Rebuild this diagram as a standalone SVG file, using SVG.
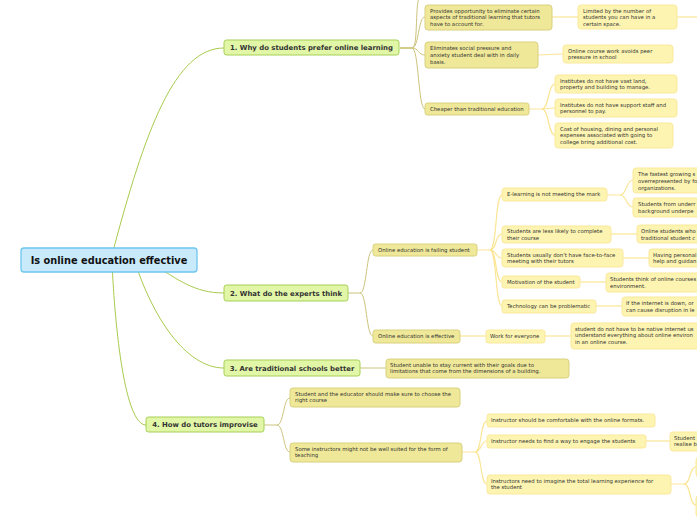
<svg xmlns="http://www.w3.org/2000/svg" width="697" height="520" viewBox="0 0 697 520">
<style>
text{font-family:"DejaVu Sans",Verdana,sans-serif;fill:#333}
.t0{font-size:9.8px;font-weight:bold;fill:#111;text-anchor:middle}
.t1{font-size:6.9px;font-weight:bold;text-anchor:middle}
.ts{font-size:5.35px}
.r{fill:#c8eafa;stroke:#6ec6ee;stroke-width:1.3}
.l1{fill:#e2f6a8;stroke:#a6cf56;stroke-width:1}
.l2{fill:#efe899;stroke:#d9d17e;stroke-width:1}
.l3{fill:#fdf4b1;stroke:#fae99c;stroke-width:1}
.cg{fill:none;stroke:#a8cb4c;stroke-width:1}
.ck{fill:none;stroke:#cdc47c;stroke-width:1}
.ckd{fill:none;stroke:#b8ab3a;stroke-width:1.2}
.cy{fill:none;stroke:#fbe597;stroke-width:1.2}
</style>
<rect width="697" height="520" fill="#fff"/>
<g id="connectors">
<path class="cg" d="M112,255 C145,130 175,48 224,48"/>
<path class="cg" d="M150,262 C178,280 195,293 224,293"/>
<path class="cg" d="M135,262 C152,315 185,368 224,368"/>
<path class="cg" d="M112,262 C115,330 125,425 146,425"/>
<path class="ckd" d="M400,48 L412,48"/>
<path class="ck" d="M412,48 C419,48 414,-3 421,-5"/>
<path class="ck" d="M412,48 C419,48 418,17 425,17"/>
<path class="ck" d="M412,48 C419,48 418,55 425,55"/>
<path class="ck" d="M412,48 C419,48 418,109 425,109"/>
<path class="ck" d="M348,293 L360,293 C367,293 366,250 373,250"/>
<path class="ck" d="M360,293 C367,293 366,336 373,336"/>
<path class="ck" d="M360,368 L386,368"/>
<path class="ck" d="M264,425 L277,425 C284,425 283,398 290,398"/>
<path class="ck" d="M277,425 C284,425 283,452 290,452"/>
<path class="cy" d="M552,17 L578,17"/>
<path class="cy" d="M677,17 L697,17"/>
<path class="cy" d="M538,55 L563,54"/>
<path class="cy" d="M529,109 L542,109 C549,109 548,84 555,84"/>
<path class="cy" d="M542,109 L555,108"/>
<path class="cy" d="M542,109 C549,109 548,135 555,135"/>
<path class="cy" d="M477,250 L490,250 C497,250 495,195 502,195"/>
<path class="cy" d="M490,250 C497,250 495,234 502,234"/>
<path class="cy" d="M490,250 C497,250 495,258 502,258"/>
<path class="cy" d="M490,250 C497,250 495,282 502,282"/>
<path class="cy" d="M490,250 C497,250 495,306 502,306"/>
<path class="cy" d="M460,336 L486,336"/>
<path class="cy" d="M462,452 L475,452 C482,452 480,421 487,421"/>
<path class="cy" d="M475,452 C482,452 480,441 487,441"/>
<path class="cy" d="M475,452 C482,452 480,484 487,484"/>
<path class="cy" d="M607,195 L620,195 C627,195 626,180 633,180"/>
<path class="cy" d="M620,195 C627,195 626,207 633,207"/>
<path class="cy" d="M611,234 L637,234"/>
<path class="cy" d="M623,258 L649,258"/>
<path class="cy" d="M580,282 L606,282"/>
<path class="cy" d="M596,306 L622,306"/>
<path class="cy" d="M545,336 L571,336"/>
<path class="cy" d="M646,441 L670,441"/>
<path class="cy" d="M671,484 L684,484 C691,484 689,467 696,467"/>
<path class="cy" d="M684,484 C691,484 689,505 696,505"/>
</g>
<g id="root"><rect class="r" x="21" y="248" width="176" height="24" rx="3"/><text class="t0" x="109" y="263.5">Is online education effective</text></g>
<g id="n1"><rect class="l1" x="224" y="40" width="175" height="15" rx="2.5"/><text class="t1" x="311.5" y="50.4">1. Why do students prefer online learning</text></g>
<g id="n2"><rect class="l1" x="224" y="285" width="124" height="16" rx="2.5"/><text class="t1" x="286" y="295.6">2. What do the experts think</text></g>
<g id="n3"><rect class="l1" x="224" y="360" width="136" height="16" rx="2.5"/><text class="t1" x="292" y="370.6">3. Are traditional schools better</text></g>
<g id="n4"><rect class="l1" x="146" y="417" width="118" height="15" rx="2.5"/><text class="t1" x="205" y="427.4">4. How do tutors improvise</text></g>

<g id="n1a"><rect class="l2" x="425" y="5" width="127" height="25" rx="3"/><text class="ts" x="430"><tspan x="430" y="12.5">Provides opportunity to eliminate certain</tspan><tspan x="430" y="19.3">aspects of traditional learning that tutors</tspan><tspan x="430" y="26.1">have to account for.</tspan></text></g>
<g id="n1a1"><rect class="l3" x="578" y="5" width="99" height="24" rx="3"/><text class="ts"><tspan x="583" y="12.5">Limited by the number of</tspan><tspan x="583" y="19.3">students you can have in a</tspan><tspan x="583" y="26.1">certain space.</tspan></text></g>
<g id="n1b"><rect class="l2" x="425" y="42" width="113" height="26" rx="3"/><text class="ts"><tspan x="430" y="50">Eliminates social pressure and</tspan><tspan x="430" y="56.8">anxiety student deal with in daily</tspan><tspan x="430" y="63.6">basis.</tspan></text></g>
<g id="n1b1"><rect class="l3" x="563" y="45" width="110" height="18" rx="3"/><text class="ts"><tspan x="568" y="52.5">Online course work avoids peer</tspan><tspan x="568" y="59.3">pressure in school</tspan></text></g>
<g id="n1c"><rect class="l2" x="425" y="103" width="104" height="12" rx="2.5"/><text class="ts" x="430" y="110.9">Cheaper than traditional education</text></g>
<g id="n1c1"><rect class="l3" x="555" y="75" width="122" height="18" rx="3"/><text class="ts"><tspan x="560" y="82.5">Institutes do not have vast land,</tspan><tspan x="560" y="89.3">property and building to manage.</tspan></text></g>
<g id="n1c2"><rect class="l3" x="555" y="99" width="122" height="18" rx="3"/><text class="ts"><tspan x="560" y="106.5">Institutes do not have support staff and</tspan><tspan x="560" y="113.3">personnel to pay.</tspan></text></g>
<g id="n1c3"><rect class="l3" x="555" y="123" width="118" height="25" rx="3"/><text class="ts"><tspan x="560" y="130.5">Cost of housing, dining and personal</tspan><tspan x="560" y="137.3">expenses associated with going to</tspan><tspan x="560" y="144.1">college bring additional cost.</tspan></text></g>

<g id="n2a"><rect class="l2" x="373" y="244" width="104" height="12" rx="2.5"/><text class="ts" x="378" y="251.9">Online education is failing student</text></g>
<g id="n2a1"><rect class="l3" x="502" y="188" width="105" height="13" rx="3"/><text class="ts" x="507" y="196.4">E-learning is not meeting the mark</text></g>
<g id="n2a1a"><rect class="l3" x="633" y="168" width="80" height="25" rx="3"/><text class="ts"><tspan x="638" y="176">The fastest growing s</tspan><tspan x="638" y="182.8">overrepresented by fo</tspan><tspan x="638" y="189.6">organizations.</tspan></text></g>
<g id="n2a1b"><rect class="l3" x="633" y="198" width="80" height="19" rx="3"/><text class="ts"><tspan x="638" y="206">Students from underr</tspan><tspan x="638" y="212.8">background underpe</tspan></text></g>
<g id="n2a2"><rect class="l3" x="502" y="226" width="109" height="17" rx="3"/><text class="ts"><tspan x="507" y="233.3">Students are less likely to complete</tspan><tspan x="507" y="240.1">their course</tspan></text></g>
<g id="n2a2a"><rect class="l3" x="637" y="225" width="80" height="18" rx="3"/><text class="ts"><tspan x="641" y="232.8">Online students who</tspan><tspan x="641" y="239.6">traditional student c</tspan></text></g>
<g id="n2a3"><rect class="l3" x="502" y="249" width="121" height="18" rx="3"/><text class="ts"><tspan x="507" y="256.5">Students usually don't have face-to-face</tspan><tspan x="507" y="263.3">meeting with their tutors</tspan></text></g>
<g id="n2a3a"><rect class="l3" x="649" y="249" width="70" height="18" rx="3"/><text class="ts"><tspan x="653" y="256.5">Having personal</tspan><tspan x="653" y="263.3">help and guidan</tspan></text></g>
<g id="n2a4"><rect class="l3" x="502" y="276" width="78" height="12" rx="2.5"/><text class="ts" x="507" y="283.9">Motivation of the student</text></g>
<g id="n2a4a"><rect class="l3" x="606" y="273" width="110" height="19" rx="3"/><text class="ts"><tspan x="610" y="281">Students think of online courses</tspan><tspan x="610" y="287.8">environment.</tspan></text></g>
<g id="n2a5"><rect class="l3" x="502" y="300" width="94" height="13" rx="2.5"/><text class="ts" x="507" y="308.4">Technology can be problematic</text></g>
<g id="n2a5a"><rect class="l3" x="622" y="297" width="95" height="19" rx="3"/><text class="ts"><tspan x="626" y="304.8">If the internet is down, or</tspan><tspan x="626" y="311.6">can cause disruption in le</tspan></text></g>
<g id="n2b"><rect class="l2" x="373" y="330" width="87" height="13" rx="2.5"/><text class="ts" x="378" y="338.4">Online education is effective</text></g>
<g id="n2b1"><rect class="l3" x="486" y="330" width="59" height="13" rx="2.5"/><text class="ts" x="490" y="338.4">Work for everyone</text></g>
<g id="n2b1a"><rect class="l3" x="571" y="323" width="140" height="26" rx="3"/><text class="ts"><tspan x="575" y="330.5">student do not have to be native internet us</tspan><tspan x="575" y="337.3">understand everything about online environ</tspan><tspan x="575" y="344.1">in an online course.</tspan></text></g>

<g id="n3a"><rect class="l2" x="386" y="359" width="183" height="19" rx="3"/><text class="ts"><tspan x="390" y="366.5">Student unable to stay current with their goals due to</tspan><tspan x="390" y="373.3">limitations that come from the dimensions of a building.</tspan></text></g>

<g id="n4a"><rect class="l2" x="290" y="388" width="170" height="19" rx="3"/><text class="ts"><tspan x="295" y="395.5">Student and the educator should make sure to choose the</tspan><tspan x="295" y="402.3">right course</tspan></text></g>
<g id="n4b"><rect class="l2" x="290" y="443" width="172" height="19" rx="3"/><text class="ts"><tspan x="295" y="450.5">Some instructors might not be well suited for the form of</tspan><tspan x="295" y="457.3">teaching</tspan></text></g>
<g id="n4b1"><rect class="l3" x="487" y="414" width="168" height="13" rx="2.5"/><text class="ts" x="491" y="422.4">Instructor should be comfortable with the online formats.</text></g>
<g id="n4b2"><rect class="l3" x="487" y="435" width="159" height="13" rx="2.5"/><text class="ts" x="491" y="443.4">Instructor needs to find a way to engage the students</text></g>
<g id="n4b2a"><rect class="l3" x="670" y="432" width="50" height="19" rx="3"/><text class="ts"><tspan x="674" y="439.5">Student</tspan><tspan x="674" y="446.3">realise b</tspan></text></g>
<g id="n4b3"><rect class="l3" x="487" y="475" width="184" height="19" rx="3"/><text class="ts"><tspan x="491" y="482.5">Instructors need to imagine the total learning experience for</tspan><tspan x="491" y="489.3">the student</tspan></text></g>
<g id="n4b3a"><rect class="l3" x="696" y="457" width="30" height="20" rx="3"/></g>
<g id="n4b3b"><rect class="l3" x="696" y="495" width="30" height="22" rx="3"/></g>
</svg>
